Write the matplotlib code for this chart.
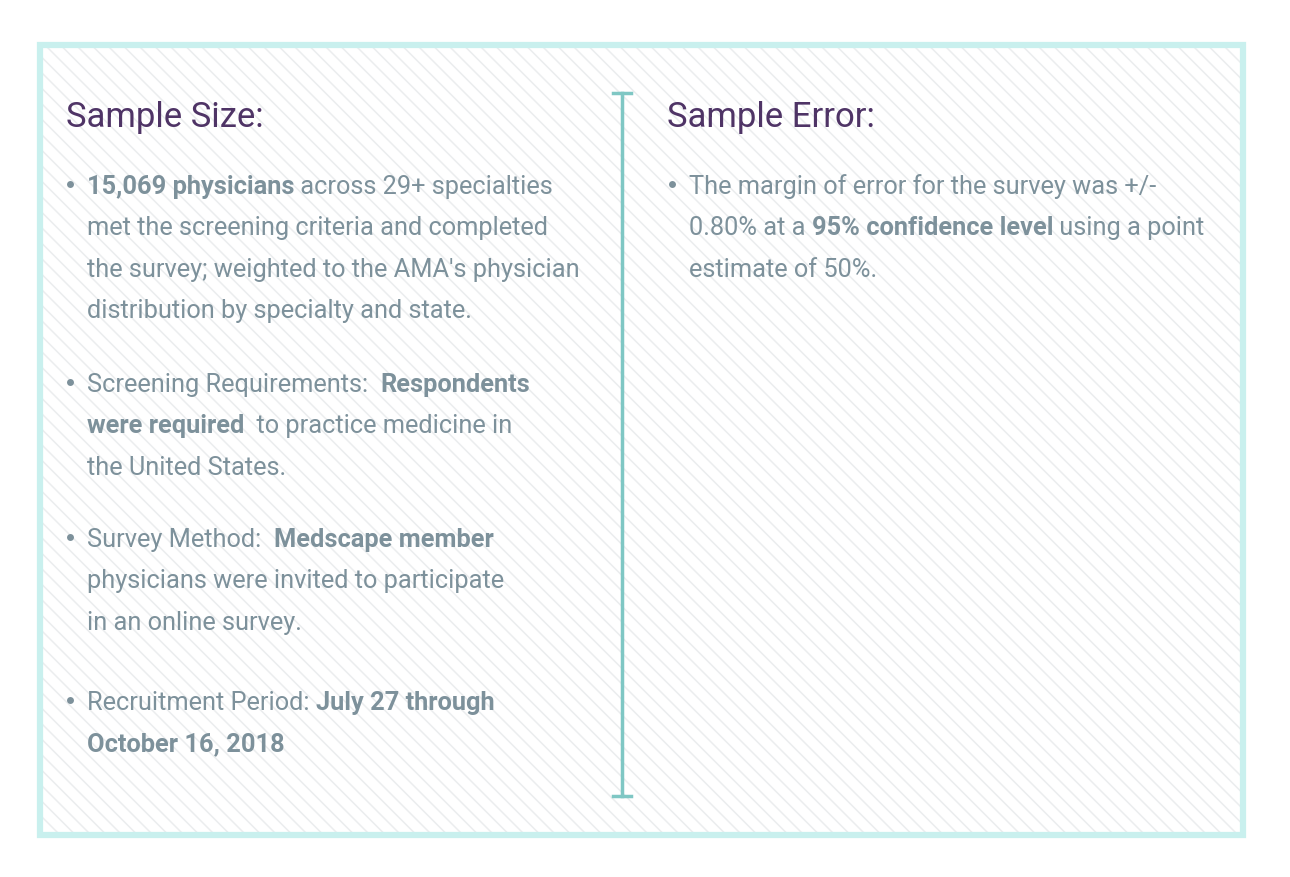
import matplotlib
matplotlib.use("Agg")
import matplotlib.pyplot as plt
import numpy as np

W, H = 1290, 878
title_left = "Sample Size:"
title_right = "Sample Error:"
# each line: list of (text, bold)
left_bullets = [
    [[("15,069 physicians", True), (" across 29+ specialties", False)],
     [("met the screening criteria and completed", False)],
     [("the survey; weighted to the AMA's physician", False)],
     [("distribution by specialty and state.", False)]],
    [[("Screening Requirements:  ", False), ("Respondents", True)],
     [("were required", True), ("  to practice medicine in", False)],
     [("the United States.", False)]],
    [[("Survey Method:  ", False), ("Medscape member", True)],
     [("physicians were invited to participate", False)],
     [("in an online survey.", False)]],
    [[("Recruitment Period: ", False), ("July 27 through", True)],
     [("October 16, 2018", True)]],
]
right_bullets = [
    [[("The margin of error for the survey was +/-", False)],
     [("0.80% at a ", False), ("95% confidence level", True), (" using a point", False)],
     [("estimate of 50%.", False)]],
]
left_bullet_y = [187, 385, 540, 703]
right_bullet_y = [187]

TXT = "#7d919b"
PURPLE = "#4f3466"
plt.rcParams['font.family'] = ['Roboto', 'DejaVu Sans']

fig = plt.figure(figsize=(W/100, H/100), dpi=100)
ax = fig.add_axes([0, 0, 1, 1])
ax.set_xlim(0, W); ax.set_ylim(H, 0); ax.axis('off')

from matplotlib.patches import Rectangle
box = Rectangle((40, 46), 1203, 790, fill=False, edgecolor="#c9f0ee", lw=4.5, zorder=3)
clip = Rectangle((40, 46), 1203, 790, transform=ax.transData)
for c in np.arange(-900, 1300, 15.5):
    ln, = ax.plot([c, c + 900], [0, 900], color="#ebedee", lw=1.1, zorder=0)
    ln.set_clip_path(clip)
ax.add_patch(box)

DIV = "#7fc7c4"
ax.plot([622, 622], [94, 797], color=DIV, lw=2.5, zorder=2)
for yy in (94, 797):
    ax.plot([613, 631], [yy, yy], color=DIV, lw=2.5, zorder=2)

ax.text(66, 118, title_left, fontsize=25, color=PURPLE, va='center', ha='left')
ax.text(667, 118, title_right, fontsize=25, color=PURPLE, va='center', ha='left')

fig.canvas.draw()
r = fig.canvas.get_renderer()
FS = 18.3
LH = 41.5

def draw_bullets(bullets, ys, x0):
    for b, y in zip(bullets, ys):
        ax.plot([x0 - 17], [y - 2], marker='o', ms=5, color=TXT, mew=0)
        for i, line in enumerate(b):
            x = x0
            yy = y + i * LH
            for s, bold in line:
                t = ax.text(x, yy, s, fontsize=FS, color=TXT, va='center', ha='left',
                            fontweight='bold' if bold else 'normal')
                bb = t.get_window_extent(renderer=r)
                x += bb.width

draw_bullets(left_bullets, left_bullet_y, 87)
draw_bullets(right_bullets, right_bullet_y, 689)

fig.savefig("out.png", dpi=100)
